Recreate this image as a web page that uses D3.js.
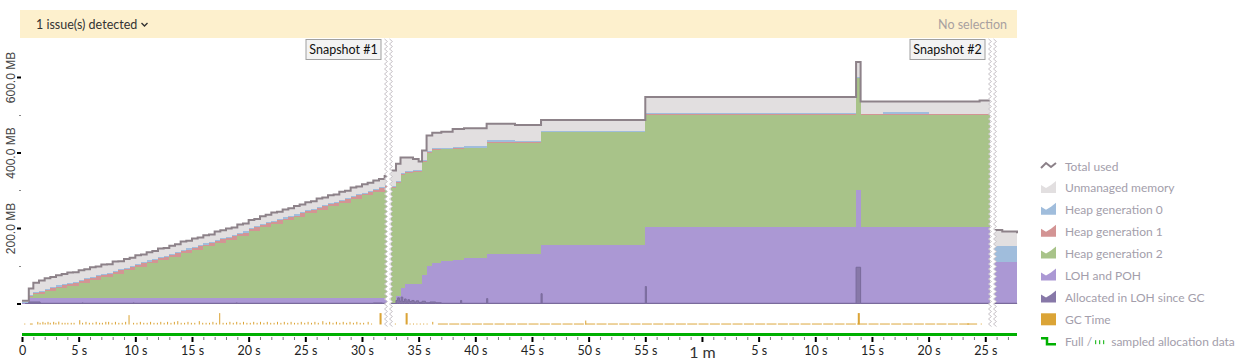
<!DOCTYPE html>
<html>
<head>
<meta charset="utf-8">
<script src="https://cdn.jsdelivr.net/npm/d3@7"></script>
<style>
body { margin: 0; background: #fff; font-family: Lato, "Noto Sans", sans-serif; }
</style>
</head>
<body>
<div id="chart"></div>
<script>
{
const width = 1255;
const height = 361;

// segment 1: start of session up to snapshot #1 (seconds, MB)
const s1Time = [0,0.6,1,1.5,2,2.5,3,3.5,4,4.5,5,5.5,6,6.5,7,7.5,8,8.5,9,9.5,10,10.5,11,11.5,12,12.5,13,13.5,14,14.5,15,15.5,16,16.5,17,17.5,18,18.5,19,19.5,20,20.5,21,21.5,22,22.5,23,23.5,24,24.5,25,25.5,26,26.5,27,27.5,28,28.5,29,29.5,30,30.5,31,31.5,32,32.2];
const s1Loh  = [2,15,15,15,15,15,15,15,15,15,15,15,15,15,15,15,15,15,15,15,15,15,15,15,15,15,15,15,15,15,15,15,15,15,15,15,15,15,15,15,15,15,15,15,15,15,15,15,15,15,15,15,15,15,15,15,15,15,15,15,15,15,15,15,15,15];
const s1Gen2 = [0,2,10,10,17,17,25,25,32,32,40,40,48,48,56,56,64,64,73,73,82,82,91,91,100,100,109,109,118,118,127,127,136,136,145,145,154,154,165,165,178,178,187,187,196,196,205,205,214,214,224,224,233,233,243,243,252,252,262,262,272,272,281,281,291,291];
const s1Gen1 = [0,3,3,6,4,8,5,9,5,8,4,9,5,9,5,8,5,9,4,9,5,10,5,9,5,9,4,9,5,10,5,9,5,9,5,10,5,9,4,8,5,9,5,10,5,9,5,9,4,10,5,9,5,10,5,9,5,9,5,10,4,9,5,10,5,5];
const s1Gen0 = [1,2,3,3,3,3,3,3,3,3,3,3,3,3,3,3,3,3,3,3,3,3,3,3,3,3,3,3,3,3,3,3,3,3,3,3,3,3,3,3,3,3,3,3,3,3,3,3,3,3,3,3,3,3,3,3,3,3,3,3,3,3,3,3,3,3];
const s1Unm  = [4,18,24,27,28,27,27,26,27,25,26,24,25,23,24,22,24,21,23,21,23,20,22,21,23,20,22,21,23,20,22,21,22,20,23,21,22,20,22,21,20,19,21,20,22,20,21,20,22,20,21,20,22,20,21,19,21,20,22,20,22,21,22,21,24,24];

// segment 2: between snapshot #1 and snapshot #2
const s2Time = [32.6,33.0,33.4,33.8,34.5,35.0,35.3,35.7,36.2,37.0,38.0,39.0,41.0,43.5,45.8,55.0,73.6,74.0,76.0,80.0,84.5,85.4];
const s2Loh  = [0,20,40,52,52,52,75,100,108,112,115,121,131,131,155,203,301,203,203,203,203,203];
const s2Gen2 = [305,300,300,293,296,297,300,300,299,296,294,290,295,295,298,297,296,297,297,297,297,297];
const s2Gen1 = [3,3,3,3,3,3,3,2,2,2,2,2,3,2,2,1,1,1,1,1,1,1];
const s2Gen0 = [2,2,2,2,2,2,2,3,3,3,3,3,3,3,3,3,3,2,5,2,2,2];
const s2Unm  = [42,45,42,37,30,22,25,40,40,42,48,48,44,42,28,43,39,32,29,32,35,35];

// segment 3: after snapshot #2
const s3Time = [85.8,86.5,87.8];
const s3Loh  = [110,110,110];
const s3Gen2 = [1,1,1];
const s3Gen1 = [0,0,0];
const s3Gen0 = [40,40,40];
const s3Unm  = [44,40,35];

// allocated in LOH since GC (MB)
const a1Time = [0.3,0.6,1.6,5.3,5.4,9.8,9.9,18.9,19.0,31.0,31.8,32.2];
const a1Val  = [0,4,0.6,1.5,0.6,1.5,0.6,1.5,0.6,1.5,0.6,0.6];
const a2Time = [32.6,33.0,33.15,33.3,33.45,33.6,33.75,33.9,34.05,34.2,34.4,34.6,34.8,35.0,35.3,35.6,36.0,36.5,37.0,38.7,38.8,41.0,41.1,45.8,45.9,55.0,55.1,73.6,74.0,85.4];
const a2Val  = [0,8,15,6,17,5,12,4,10,5,8,4,7,3,6,2,4,2,0.6,8,0.6,13,0.6,26,0.6,45,0.6,96,0.6,0.6];
const a3Time = [85.8,87.8];
const a3Val  = [0.6,0.6];

// GC pauses: [start s, duration s, % of time]
const gcEvents = [
  [0.2,0.09,8],[0.7,0.25,8],[1.35,0.09,22],[1.55,0.09,14],[1.8,0.09,22],[2.0,0.09,14],[2.25,0.09,22],[2.45,0.09,14],
  [2.75,0.09,22],[2.95,0.09,14],[3.2,0.09,24],[3.5,0.09,14],[3.75,0.09,14],[4.0,0.09,14],[4.3,0.09,14],[4.55,0.09,14],
  [5.05,0.09,36],[5.3,0.09,14],[5.6,0.09,22],[5.9,0.09,14],[6.2,0.09,14],[6.5,0.09,22],[6.8,0.09,14],[7.05,0.09,14],
  [7.35,0.09,22],[7.6,0.09,22],[7.9,0.09,14],[8.2,0.09,22],[8.5,0.09,14],[8.8,0.09,14],[9.1,0.09,22],[9.4,0.09,78],
  [9.8,0.09,14],[10.1,0.09,14],[10.4,0.09,22],[10.7,0.09,14],[11.0,0.09,14],[11.3,0.09,22],[11.6,0.09,14],[11.9,0.09,14],
  [12.2,0.09,22],[12.5,0.09,14],[12.8,0.09,22],[13.1,0.09,14],[13.4,0.09,22],[13.7,0.09,28],[14.0,0.09,14],[14.3,0.09,14],
  [14.6,0.09,22],[14.9,0.09,14],[15.2,0.09,14],[15.6,0.09,28],[15.9,0.09,14],[16.2,0.09,14],[16.5,0.09,14],[16.8,0.09,22],
  [17.1,0.09,14],[17.4,0.09,95],[17.7,0.09,14],[18.0,0.09,14],[18.3,0.09,22],[18.6,0.09,14],[18.9,0.09,22],[19.2,0.09,14],
  [19.5,0.09,22],[19.8,0.09,14],[20.1,0.09,14],[20.4,0.09,22],[20.7,0.09,14],[21.0,0.09,22],[21.3,0.09,14],[21.6,0.09,22],
  [21.9,0.09,14],[22.2,0.09,14],[22.5,0.09,22],[22.8,0.09,14],[23.1,0.09,22],[23.4,0.09,14],[23.7,0.09,22],[24.0,0.09,14],
  [24.3,0.09,14],[24.6,0.09,22],[24.9,0.09,14],[25.2,0.09,22],[25.5,0.09,14],[25.8,0.09,22],[26.1,0.09,14],[26.5,0.09,28],
  [26.8,0.09,14],[27.1,0.09,22],[27.4,0.09,14],[27.7,0.09,22],[28.0,0.09,14],[28.3,0.09,22],[28.6,0.09,14],[28.9,0.09,22],
  [29.2,0.09,14],[29.5,0.09,22],[29.8,0.09,14],[30.1,0.09,14],[30.5,0.09,22],[30.8,0.09,8],[31.55,0.18,95],
  [32.9,0.09,8],[33.85,0.18,95],[34.2,0.09,8],[34.5,0.09,8],[34.8,0.09,8],[35.1,0.09,8],[35.4,0.09,8],[35.7,0.09,8],
  [36.2,0.09,22],[49.7,0.09,33],[73.75,0.18,95],[84.6,0.09,8]
];
// continuous low GC activity, one dash per second
const gcDash = [36.7,37.7,38.7,39.7,40.7,41.7,42.7,43.7,44.7,45.7,46.7,47.7,48.7,49.7,50.7,51.7,52.7,53.7,54.7,55.7,56.7,57.7,58.7,59.7,60.7,61.7,62.7,63.7,64.7,65.7,66.7,67.7,68.7,69.7,70.7,71.7,72.7,73.7,74.7,75.7,76.7,77.7,78.7,79.7,80.7,81.7,82.7,83.4];

const snapshots = [{name: 'Snapshot #1', t: 32.3}, {name: 'Snapshot #2', t: 85.6}];

const xMajor = [0,5,10,15,20,25,30,35,40,45,50,55,60,65,70,75,80,85];
const xLabels = ['0','5 s','10 s','15 s','20 s','25 s','30 s','35 s','40 s','45 s','50 s','55 s','1 m','5 s','10 s','15 s','20 s','25 s'];
const yMajor = [0,200,400,600];
const yMinor = [100,300,500];

const legendItems = [
  {label: 'Total used', type: 'line', color: '#8b8088'},
  {label: 'Unmanaged memory', type: 'area', color: '#e2dfe0'},
  {label: 'Heap generation 0', type: 'area', color: '#a0bddc'},
  {label: 'Heap generation 1', type: 'area', color: '#d39494'},
  {label: 'Heap generation 2', type: 'area', color: '#a8c389'},
  {label: 'LOH and POH', type: 'area', color: '#ab98d4'},
  {label: 'Allocated in LOH since GC', type: 'area', color: '#8778a8'},
  {label: 'GC Time', type: 'rect', color: '#dba436'},
  {label: 'Full / ', type: 'full', color: '#00b000'}
];

const keys = ['loh','gen2','gen1','gen0','unm'];
const colors = {loh: '#ab98d4', gen2: '#a8c389', gen1: '#d39494', gen0: '#a0bddc', unm: '#e2dfe0'};

function rows(t, loh, g2, g1, g0, un) {
    return t.map((d, i) => ({t: d, loh: loh[i], gen2: g2[i], gen1: g1[i], gen0: g0[i], unm: un[i]}));
}
const segments = [
    rows(s1Time, s1Loh, s1Gen2, s1Gen1, s1Gen0, s1Unm),
    rows(s2Time, s2Loh, s2Gen2, s2Gen1, s2Gen0, s2Unm),
    rows(s3Time, s3Loh, s3Gen2, s3Gen1, s3Gen0, s3Unm)
];
const allocs = [
    a1Time.map((t, i) => ({t: t, v: a1Val[i]})),
    a2Time.map((t, i) => ({t: t, v: a2Val[i]})),
    a3Time.map((t, i) => ({t: t, v: a3Val[i]}))
];

let svg = d3.select('#chart')
    .append('svg')
    .attr('width', width)
    .attr('height', height)
    .style('font-family', 'Lato, "Noto Sans", sans-serif');

let x = d3.scaleLinear().domain([0, 87.8]).range([22, 1017]);
let y = d3.scaleLinear().domain([0, 600]).range([303.5, 77]);
let gcY = d3.scaleLinear().domain([0, 100]).range([324.5, 312.5]);

// issues banner
svg.append('rect')
    .attr('x', 20).attr('y', 10).attr('width', 997).attr('height', 28)
    .attr('fill', '#fdf0cd');
svg.append('text')
    .attr('x', 36).attr('y', 28.5)
    .style('font-size', '12.5px').style('fill', '#333')
    .text('1 issue(s) detected');
svg.append('path')
    .attr('d', 'M141.5,23 L144.5,26 L147.5,23')
    .attr('fill', 'none').attr('stroke', '#333').attr('stroke-width', 1.4);
svg.append('text')
    .attr('x', 1007).attr('y', 28.5)
    .style('font-size', '12.5px').style('fill', '#a8a0a0')
    .style('text-anchor', 'end')
    .text('No selection');

// stacked memory areas
let area = d3.area().curve(d3.curveStepAfter)
    .x(d => x(d.data.t)).y0(d => y(d[0])).y1(d => y(d[1]));
let topLine = d3.line().curve(d3.curveStepAfter)
    .x(d => x(d.data.t)).y(d => y(d[1]));

segments.forEach(seg => {
    let stacked = d3.stack().keys(keys)(seg);
    svg.append('g').selectAll('path').data(stacked).enter().append('path')
        .attr('fill', d => colors[d.key])
        .attr('shape-rendering', 'crispEdges')
        .attr('d', area);
    svg.append('path').datum(stacked[stacked.length - 1])
        .attr('fill', 'none')
        .attr('stroke', '#8d8289')
        .attr('stroke-width', 2)
        .attr('d', topLine);
});

let allocArea = d3.area().curve(d3.curveStepAfter)
    .x(d => x(d.t)).y0(y(0)).y1(d => y(d.v));
allocs.forEach(a => {
    svg.append('path').datum(a)
        .attr('fill', '#8778a8')
        .attr('stroke', '#7a6b9c')
        .attr('stroke-width', 1)
        .attr('d', allocArea);
});

// GC time
svg.append('g').selectAll('rect').data(gcEvents).enter().append('rect')
    .attr('x', d => x(d[0]))
    .attr('width', d => Math.max(1, x(d[0] + d[1]) - x(d[0])))
    .attr('y', d => gcY(d[2]))
    .attr('height', d => gcY(0) - gcY(d[2]))
    .attr('fill', '#dba436');
svg.append('g').selectAll('rect').data(gcDash).enter().append('rect')
    .attr('x', d => x(d))
    .attr('width', d => x(d + 0.88) - x(d))
    .attr('y', gcY(8))
    .attr('height', gcY(0) - gcY(8))
    .attr('fill', '#dba436');

// snapshot markers
snapshots.forEach(s => {
    let cx = Math.round(x(s.t)) + 0.5;
    let left = [], right = [];
    for (let yy = 39, k = 0; yy <= 327; yy += 2.5, k++) {
        let off = (k % 2 === 0) ? -1.5 : 1.5;
        left.push([cx - 2.5 + off, yy]);
        right.push([cx + 2.5 + off, yy]);
    }
    let poly = left.concat(right.slice().reverse());
    svg.append('path')
        .attr('d', 'M' + poly.map(p => p.join(',')).join('L') + 'Z')
        .attr('fill', '#fff');
    [left, right].forEach(edge => {
        svg.append('path')
            .attr('d', d3.line()(edge))
            .attr('fill', 'none')
            .attr('stroke', '#c8c3c8')
            .attr('stroke-width', 1);
    });
    let bx = cx - 83;
    svg.append('rect')
        .attr('x', bx + 0.5).attr('y', 39.5).attr('width', 75).attr('height', 20)
        .attr('fill', '#f3f3f3').attr('stroke', '#a0a0a0');
    svg.append('text')
        .attr('x', bx + 38).attr('y', 54)
        .style('font-size', '12.5px').style('fill', '#111')
        .style('text-anchor', 'middle')
        .text(s.name);
});

// y axis
let yAxis = svg.append('g')
    .attr('transform', 'translate(21,0)')
    .call(d3.axisLeft(y).tickValues(yMajor).tickSize(4).tickFormat(d => d.toFixed(1) + ' MB'));
yAxis.select('.domain').remove();
yAxis.selectAll('line').attr('stroke', '#000').attr('stroke-width', 2);
yAxis.selectAll('text')
    .attr('transform', 'rotate(-90)')
    .attr('x', 0).attr('y', -6).attr('dy', 0)
    .style('text-anchor', 'middle')
    .style('font-family', '"Liberation Sans", Arial, sans-serif')
    .style('font-size', '12px')
    .style('fill', '#444');
yAxis.selectAll('.tick').filter(d => d === 0).select('text').remove();
svg.append('g').selectAll('line').data(yMinor).enter().append('line')
    .attr('x1', 19).attr('x2', 21)
    .attr('y1', d => Math.round(y(d)) + 0.5).attr('y2', d => Math.round(y(d)) + 0.5)
    .attr('stroke', '#888');

// full / sampled bar
svg.append('rect')
    .attr('x', x(0)).attr('y', 333)
    .attr('width', x(87.8) - x(0)).attr('height', 3)
    .attr('fill', '#00b000');

// x axis
let minorTicks = d3.range(0, 88, 1).filter(d => d % 5 !== 0);
let xMinorAxis = svg.append('g')
    .attr('transform', 'translate(0,337)')
    .call(d3.axisBottom(x).tickValues(minorTicks).tickSize(3).tickFormat(''));
xMinorAxis.select('.domain').remove();
xMinorAxis.selectAll('line').attr('stroke', '#777');

let xAxis = svg.append('g')
    .attr('transform', 'translate(0,337)')
    .call(d3.axisBottom(x).tickValues(xMajor).tickSize(5).tickPadding(4)
        .tickFormat((d, i) => xLabels[i]));
xAxis.select('.domain').remove();
xAxis.selectAll('line').attr('stroke', '#000').attr('stroke-width', 2);
xAxis.selectAll('text')
    .style('font-family', 'Lato, "Noto Sans", sans-serif')
    .style('font-size', '12.5px')
    .style('fill', '#222');
xAxis.selectAll('.tick').filter(d => d === 60).select('text')
    .style('font-size', '16px').attr('y', 10).style('fill', '#333');

// legend
let legend = svg.append('g').attr('transform', 'translate(1041,0)');
legendItems.forEach((item, i) => {
    let cy = 166 + i * 21.9;
    let g = legend.append('g').attr('transform', `translate(0,${cy})`);
    if (item.type === 'line') {
        g.append('path').attr('d', 'M0,2 L5,-3 L10,1 L15,-3')
            .attr('fill', 'none').attr('stroke', item.color).attr('stroke-width', 2);
    } else if (item.type === 'area') {
        g.append('path').attr('d', 'M0,-3 L5,0 L10,-3 L15,-7 L15,5 L0,5 Z')
            .attr('fill', item.color);
    } else if (item.type === 'rect') {
        g.append('rect').attr('x', 0).attr('y', -6).attr('width', 15).attr('height', 12)
            .attr('fill', item.color);
    } else {
        g.append('path').attr('d', 'M0,-3 H6 V3 H15')
            .attr('fill', 'none').attr('stroke', item.color).attr('stroke-width', 2.5);
    }
    let t = g.append('text')
        .attr('x', 24).attr('y', 4.5)
        .style('font-size', '12px')
        .style('fill', '#a39eab')
        .text(item.label);
    if (item.type === 'full') {
        let w = t.node().getComputedTextLength();
        [0, 4, 8].forEach(o => {
            g.append('line')
                .attr('x1', 24 + w + 3 + o + 0.5).attr('x2', 24 + w + 3 + o + 0.5)
                .attr('y1', -1).attr('y2', 3)
                .attr('stroke', item.color).attr('stroke-width', 1);
        });
        g.append('text')
            .attr('x', 24 + w + 19).attr('y', 4.5)
            .style('font-size', '12px')
            .style('fill', '#a39eab')
            .text('sampled allocation data');
    }
});
}
</script>
</body>
</html>
